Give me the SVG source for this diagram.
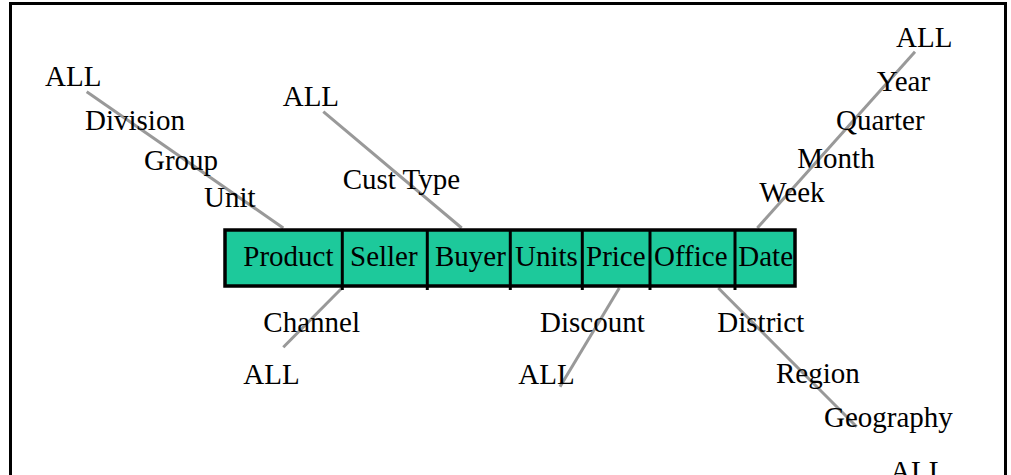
<svg xmlns="http://www.w3.org/2000/svg" width="1011" height="475" viewBox="0 0 1011 475">
<style>
text{font-family:"Liberation Serif","Times New Roman",serif;font-size:29px;fill:#000}
.cell{fill:#1DC99B;stroke:#000;stroke-width:3.5}
.div{stroke:#000;stroke-width:3}
.con{stroke:#999;stroke-width:3;stroke-linecap:butt;fill:none}
</style>
<rect x="0" y="0" width="1011" height="475" fill="#fff"/>
<rect id="frame" x="10.5" y="3.5" width="995" height="520" fill="none" stroke="#000" stroke-width="3"/>
<g id="connectors">
<line class="con" x1="86.7" y1="91.7" x2="283.3" y2="228"/>
<line class="con" x1="323.3" y1="111.7" x2="461.7" y2="228"/>
<line class="con" x1="915" y1="51.7" x2="757.3" y2="228"/>
<line class="con" x1="342" y1="288" x2="283.3" y2="347.3"/>
<line class="con" x1="619.3" y1="288" x2="560" y2="386.7"/>
<line class="con" x1="718.3" y1="288" x2="856.7" y2="426.7"/>
</g>
<g id="fact-table">
<rect class="cell" x="225" y="230" width="570" height="56"/>
<line class="div" x1="342.3" y1="230" x2="342.3" y2="290"/>
<line class="div" x1="427.3" y1="230" x2="427.3" y2="290"/>
<line class="div" x1="510.3" y1="230" x2="510.3" y2="290"/>
<line class="div" x1="582.3" y1="230" x2="582.3" y2="290"/>
<line class="div" x1="650" y1="230" x2="650" y2="290"/>
<line class="div" x1="735" y1="230" x2="735" y2="290"/>
<text x="243.3" y="266">Product</text>
<text x="350" y="266">Seller</text>
<text x="435" y="266">Buyer</text>
<text x="515" y="266">Units</text>
<text x="586" y="266">Price</text>
<text x="654" y="266">Office</text>
<text x="738.3" y="266">Date</text>
</g>
<g id="product-hierarchy">
<text x="45" y="86">ALL</text>
<text x="85" y="130">Division</text>
<text x="144" y="170">Group</text>
<text x="204" y="206.7">Unit</text>
</g>
<g id="buyer-hierarchy">
<text x="282.7" y="106">ALL</text>
<text x="342.7" y="189.3">Cust Type</text>
</g>
<g id="date-hierarchy">
<text x="896" y="46.7">ALL</text>
<text x="876.7" y="90.7">Year</text>
<text x="836" y="130">Quarter</text>
<text x="797.3" y="168.3">Month</text>
<text x="759.3" y="201.7">Week</text>
</g>
<g id="seller-hierarchy">
<text x="263.3" y="332.3">Channel</text>
<text x="243.3" y="384.3">ALL</text>
</g>
<g id="price-hierarchy">
<text x="540" y="332">Discount</text>
<text x="518.3" y="384.3">ALL</text>
</g>
<g id="office-hierarchy">
<text x="717.3" y="331.7">District</text>
<text x="776" y="383.3">Region</text>
<text x="824" y="426.7">Geography</text>
<text x="890" y="481">ALL</text>
</g>
</svg>
